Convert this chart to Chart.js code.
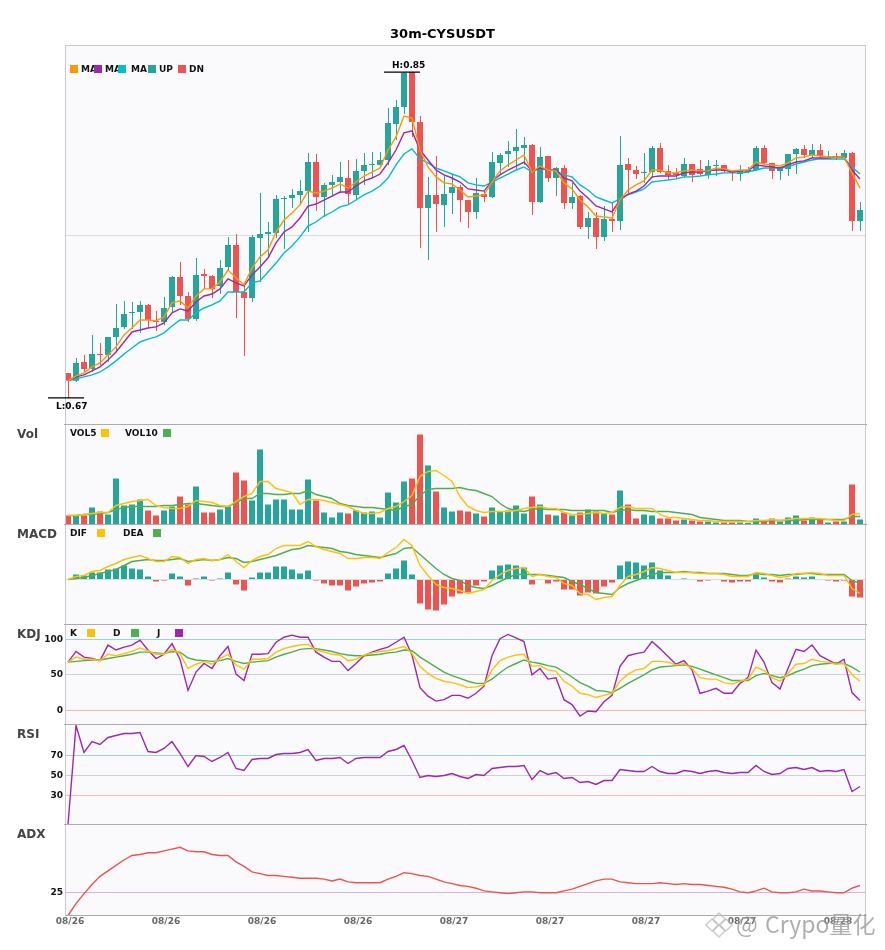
<!DOCTYPE html>
<html>
<head>
<meta charset="utf-8">
<title>30m-CYSUSDT</title>
<script src="https://cdn.jsdelivr.net/npm/chart.js@4"></script>
<style>
html, body { margin: 0; padding: 0; background: #fff; }
canvas { display: block; }
</style>
</head>
<body>
<canvas id="klineChart" width="885" height="950"></canvas>
<script>
const chartTitle = '30m-CYSUSDT';

// candles
const opens = [.6843,.6799,.6903,.6864,.6947,.6942,.7041,.7096,.7173,.7178,
  .7217,.7129,.7123,.7206,.7371,.7266,.7140,.7387,.7376,.7321,
  .7426,.7547,.7288,.7255,.7585,.7607,.7613,.7800,.7805,.7822,
  .7843,.8003,.7811,.7877,.7893,.7915,.7822,.7954,.7987,.7987,
  .8014,.8212,.8306,.8498,.8223,.7750,.7822,.7767,.7833,.7866,
  .7794,.7728,.7827,.7811,.7998,.8047,.8064,.8080,.8097,.7783,
  .8036,.7915,.7970,.7778,.7816,.7646,.7695,.7591,.7690,.7679,
  .7992,.7959,.7943,.7948,.8080,.7954,.7943,.7926,.7992,.7965,
  .7932,.7981,.7987,.7954,.7937,.7948,.7959,.8080,.7998,.7954,
  .7965,.8047,.8075,.8042,.8069,.8031,.8036,.8025,.8052,.7679];
const highs = [.6843,.6925,.6942,.7052,.7008,.7041,.7222,.7239,.7233,.7239,
  .7222,.7184,.7261,.7376,.7453,.7288,.7475,.7415,.7382,.7464,
  .7591,.7607,.7338,.7602,.7833,.7673,.7822,.7816,.7855,.7904,
  .8052,.8047,.7888,.7932,.8003,.8014,.8020,.8052,.8058,.8058,
  .8300,.8344,.8498,.8498,.8256,.7921,.8036,.7932,.7937,.7877,
  .7794,.7915,.7849,.8058,.8052,.8119,.8185,.8141,.8102,.8086,
  .8036,.7976,.7987,.7888,.7822,.7728,.7728,.7761,.7778,.8146,
  .8025,.7981,.8052,.8091,.8108,.7987,.7970,.8025,.7992,.8014,
  .8014,.8014,.7987,.7959,.7987,.7976,.8091,.8097,.7998,.7976,
  .8047,.8080,.8097,.8102,.8102,.8064,.8052,.8069,.8058,.7783];
const lows = [.6705,.6793,.6843,.6848,.6887,.6903,.6958,.7085,.7085,.7063,
  .7090,.7074,.7107,.7178,.7217,.7123,.7129,.7305,.7255,.7277,
  .7409,.7145,.6936,.7233,.7343,.7475,.7585,.7525,.7750,.7767,
  .7618,.7734,.7701,.7822,.7833,.7767,.7794,.7877,.7915,.7970,
  .7987,.8124,.8267,.8141,.7530,.7464,.7618,.7646,.7717,.7673,
  .7640,.7690,.7783,.7805,.7932,.7976,.7959,.7987,.7712,.7778,
  .7893,.7816,.7745,.7745,.7635,.7580,.7525,.7569,.7618,.7629,
  .7833,.7910,.7888,.7915,.7943,.7904,.7910,.7915,.7893,.7932,
  .7910,.7926,.7943,.7899,.7899,.7943,.7954,.7987,.7910,.7904,
  .7926,.7937,.8025,.8025,.8025,.8025,.8014,.8014,.7624,.7624];
const closes = [.6799,.6898,.6864,.6947,.6942,.7041,.7090,.7167,.7178,.7217,
  .7134,.7123,.7200,.7371,.7266,.7140,.7382,.7376,.7305,.7420,
  .7547,.7288,.7255,.7591,.7607,.7618,.7800,.7805,.7822,.7843,
  .8003,.7811,.7877,.7893,.7921,.7827,.7954,.7987,.7992,.8014,
  .8218,.8306,.8493,.8223,.7750,.7822,.7772,.7827,.7866,.7794,
  .7728,.7833,.7811,.8003,.8042,.8064,.8086,.8097,.7783,.8031,
  .7915,.7970,.7778,.7811,.7646,.7695,.7591,.7690,.7679,.7987,
  .7959,.7937,.7948,.8080,.7948,.7932,.7932,.7992,.7932,.7937,
  .7981,.7987,.7954,.7943,.7954,.7959,.8080,.7998,.7954,.7970,
  .8047,.8075,.8042,.8069,.8036,.8036,.8031,.8052,.7679,.7739];

// moving averages
const ma5 = [.6799,.6826,.6843,.6876,.6898,.6942,.6986,.7052,.7090,.7134,
  .7134,.7129,.7151,.7228,.7239,.7200,.7266,.7305,.7305,.7343,
  .7409,.7365,.7327,.7420,.7481,.7519,.7618,.7684,.7723,.7767,
  .7843,.7833,.7843,.7860,.7882,.7860,.7893,.7926,.7948,.7970,
  .8069,.8141,.8256,.8245,.8069,.7976,.7921,.7888,.7882,.7849,
  .7811,.7816,.7822,.7893,.7954,.7987,.8014,.8042,.7948,.7981,
  .7959,.7954,.7888,.7855,.7794,.7756,.7706,.7701,.7695,.7794,
  .7849,.7877,.7899,.7959,.7959,.7943,.7943,.7954,.7959,.7954,
  .7954,.7970,.7965,.7954,.7959,.7959,.8003,.7992,.7987,.7981,
  .7998,.8025,.8031,.8042,.8036,.8031,.8031,.8031,.7943,.7860];
const ma10 = [.6799,.6821,.6832,.6854,.6876,.6914,.6958,.7013,.7068,.7079,
  .7090,.7096,.7118,.7173,.7195,.7184,.7233,.7266,.7277,.7305,
  .7360,.7338,.7321,.7382,.7426,.7475,.7558,.7618,.7646,.7695,
  .7761,.7772,.7794,.7816,.7838,.7838,.7871,.7899,.7915,.7937,
  .7998,.8069,.8163,.8174,.8069,.8014,.7959,.7932,.7915,.7893,
  .7855,.7849,.7843,.7899,.7932,.7959,.7981,.8003,.7954,.7970,
  .7959,.7959,.7915,.7899,.7843,.7805,.7761,.7745,.7728,.7794,
  .7827,.7843,.7871,.7921,.7926,.7926,.7926,.7943,.7948,.7948,
  .7954,.7959,.7959,.7948,.7954,.7954,.7987,.7981,.7976,.7970,
  .7987,.8003,.8009,.8025,.8025,.8025,.8031,.8031,.7959,.7910];
const ma20 = [.6799,.6810,.6821,.6832,.6848,.6876,.6909,.6947,.6980,.7013,
  .7029,.7041,.7063,.7101,.7134,.7134,.7173,.7200,.7217,.7239,
  .7288,.7288,.7288,.7338,.7349,.7398,.7447,.7502,.7541,.7591,
  .7651,.7673,.7706,.7728,.7756,.7767,.7794,.7822,.7843,.7871,
  .7915,.7987,.8047,.8075,.8020,.7998,.7970,.7954,.7937,.7921,
  .7888,.7877,.7871,.7893,.7915,.7937,.7959,.7976,.7948,.7970,
  .7959,.7954,.7932,.7921,.7877,.7849,.7811,.7794,.7778,.7800,
  .7822,.7838,.7855,.7893,.7899,.7904,.7910,.7921,.7921,.7926,
  .7932,.7937,.7943,.7943,.7943,.7948,.7959,.7970,.7970,.7970,
  .7976,.7992,.8003,.8014,.8020,.8020,.8020,.8020,.7976,.7937];

// volume (relative, axis has no numbers in the picture)
const volumes = [9,9,9,17,13,10,46,19,20,25,
  14,9,14,18,28,20,38,12,12,15,
  18,52,44,24,75,20,25,25,15,15,
  45,24,12,7,12,11,14,12,13,7,
  32,22,43,46,90,59,33,17,13,14,
  13,11,8,17,13,14,19,11,28,20,
  10,9,12,9,12,15,13,11,10,34,
  20,6,10,9,6,6,4,5,4,3,
  3,2,2,2,2,1.5,6,3,6,3,
  7,9,4,7,5,2,3,3,40,5];
const vol5 = [9,9,10,11,12,12,19,21,23,24,
  25,19,17,16,16,18,24,23,22,19,
  18,23,28,31,43,43,36,34,32,20,
  25,25,24,22,20,18,14,11,11,12,
  16,18,23,29,48,53,54,49,43,28,
  18,14,12,13,13,13,14,16,17,18,
  16,16,12,10,10,11,12,11,12,17,
  18,16,16,16,10,7,7,6,5,4,
  4,3,3,3,3,3,4,4,5,4,
  5,6,6,6,6,5,4,4,10,11];
const vol10 = [9,9,10,10,11,12,15,17,18,18,
  18,18,19,19,20,21,21,20,19,18,
  18,22,26,26,31,31,30,30,31,31,
  34,30,28,26,21,19,18,17,17,16,
  15,14,18,20,29,35,36,36,36,37,
  35,34,31,28,21,16,14,13,15,16,
  15,15,15,14,14,14,14,14,12,14,
  15,14,14,13,13,13,12,11,10,7,
  6,5,4,4,4,3,3,3,4,4,
  4,4,5,5,5,5,5,5,8,8];

// MACD, in thousandths
const macdHist = [0,5,4,7,7,10,11,14,11,10,
  3,-2,-1,6,3,-6,1,3,-1,1,
  7,-5,-11,2,7,7,13,13,10,6,
  9,-1,-4,-6,-6,-11,-7,-4,-3,-2,
  6,11,19,5,-24,-30,-31,-25,-17,-14,
  -13,-6,-2,9,14,15,14,12,-5,0,
  -4,-2,-10,-10,-16,-13,-14,-7,-3,14,
  18,17,14,17,9,4,0,1,0,-2,
  -1,0,-2,-3,-2,-2,5,2,-2,-3,
  1,3,2,3,0,-1,-2,-1,-17,-18];
const macdDif = [0,3,4,8,9,13,16,20,22,24,
  21,18,18,23,22,16,20,21,19,20,
  25,18,12,19,23,25,31,34,34,34,
  38,33,30,28,26,21,21,22,22,21,
  27,32,40,34,14,4,-5,-8,-9,-11,
  -14,-12,-10,-1,5,9,11,12,3,5,
  3,2,-4,-6,-14,-15,-20,-18,-17,-6,
  3,5,8,12,11,9,7,7,7,6,
  6,6,5,3,3,3,7,6,4,2,
  3,6,6,7,6,4,4,4,-9,-14];
const macdDea = [0,1,2,4,6,8,10,14,18,19,
  20,19,19,20,21,18,19,20,19,20,
  22,21,17,18,20,22,24,27,30,31,
  34,33,32,31,28,27,25,24,23,22,
  24,26,31,32,25,18,11,5,1,-1,
  -6,-8,-9,-6,-2,2,5,5,5,5,
  4,3,2,-2,-5,-9,-13,-14,-15,-8,
  -4,-1,2,5,7,7,7,8,7,7,
  6,6,6,5,4,4,6,5,5,4,
  5,5,6,6,5,5,5,5,-1,-4];

// KDJ
const kdjK = [68,75,72,72,70,79,77,80,83,88,
  84,79,79,86,80,59,65,69,65,73,
  79,64,58,72,72,73,82,87,90,92,
  93,85,82,79,78,70,72,78,81,83,
  84,87,90,80,62,52,45,41,39,36,
  32,33,36,57,70,75,78,79,62,63,
  57,55,41,34,24,22,18,21,24,41,
  51,57,59,69,69,68,64,66,59,46,
  44,44,39,37,41,44,61,56,46,41,
  52,65,66,72,69,68,65,66,50,41];
const kdjD = [68,69,70,71,71,73,75,77,79,82,
  82,81,80,83,82,74,71,70,69,70,
  73,69,66,68,69,70,75,79,82,86,
  87,87,85,83,80,78,77,77,78,79,
  81,82,85,84,75,68,61,54,49,45,
  41,38,38,44,53,61,66,71,68,66,
  63,61,54,47,39,34,28,27,25,31,
  38,44,50,57,61,62,63,64,62,58,
  54,50,46,42,42,42,49,52,49,46,
  49,54,58,63,65,66,67,66,61,54];
const kdjJ = [68,83,75,73,70,92,85,89,92,99,
  85,73,79,94,72,28,54,66,59,77,
  90,51,42,79,79,80,96,103,106,103,
  103,82,75,69,69,56,66,77,82,86,
  89,96,103,78,32,20,13,15,21,21,
  17,24,34,77,101,107,102,97,50,59,
  44,46,15,8,-8,-1,-2,12,21,62,
  77,80,82,97,87,76,65,70,57,24,
  27,31,24,24,38,46,85,68,39,30,
  59,86,83,92,77,71,65,72,25,14];

// RSI and ADX
const rsiVals = [1,100,73,84,81,88,90,92,92,93,
  74,73,77,84,72,59,70,69,64,68,
  73,57,55,66,67,67,71,72,72,73,
  76,65,67,67,68,62,67,68,68,68,
  74,76,80,65,48,50,49,50,52,49,
  47,51,50,57,58,59,59,60,46,55,
  51,53,47,48,43,44,41,45,45,56,
  55,54,54,59,54,52,52,55,54,52,
  54,55,53,52,53,53,60,54,51,52,
  57,58,56,58,54,55,54,56,34,39];
const adxVals = [0,13,24,34,43,49,55,61,66,67,
  69,69,71,73,75,71,70,70,67,66,
  66,59,54,48,46,44,44,43,42,41,
  41,41,40,38,40,37,36,36,36,36,
  40,43,47,46,44,43,40,37,35,33,
  32,30,27,26,25,24,25,26,26,25,
  25,25,27,29,32,35,38,40,40,37,
  36,35,35,35,36,35,34,35,34,34,
  33,32,31,29,26,25,27,30,26,25,
  25,26,29,27,27,26,25,25,30,33];

// x axis labels
const xTickIndex = [0,12,24,36,48,60,72,84,96];
const xTickLabels = ['08/26','08/26','08/26','08/26','08/27','08/27','08/27','08/27','08/28'];

// colours
const UP = '#26A69A', DN = '#EF5350';
const ORANGE = '#FF9800', PURPLE = '#9C27B0', CYAN = '#00BCD4';
const YELLOW = '#FFC107', GREEN = '#4CAF50';
const FONT = "'DejaVu Sans'";

const candleColors = closes.map((c, i) => c >= opens[i] ? UP : DN);
const xy = arr => arr.map((v, i) => ({ x: i, y: v }));

function lineSet(data, color, axis, width) {
  return {
    type: 'line', data: xy(data), yAxisID: axis,
    borderColor: color, borderWidth: width || 1.4,
    pointRadius: 0, tension: 0, order: 0
  };
}

function barSet(data, color, axis, thickness, xAxis, order, minLength) {
  return {
    type: 'bar', data: data, yAxisID: axis, xAxisID: xAxis || 'x',
    backgroundColor: color, barThickness: thickness, minBarLength: minLength || 0,
    grouped: false, borderWidth: 0, inflateAmount: 0, order: order
  };
}

// each pane: scale plus reference lines
function pane(weight, stackWeight, min, max, lines, showLabels) {
  return {
    type: 'linear', position: 'left', stack: 'panes', stackWeight: stackWeight, weight: weight,
    min: min, max: max,
    afterFit: s => { s.width = 46; },
    afterBuildTicks: s => { s.ticks = lines.map(l => ({ value: l.value })); },
    border: { display: false },
    grid: {
      drawTicks: false, lineWidth: 1,
      color: c => { const l = lines.find(x => x.value === c.tick.value); return l ? l.color : 'transparent'; }
    },
    ticks: {
      display: showLabels, padding: 2.5, color: '#111', autoSkip: false,
      font: { family: FONT, size: 9, weight: 'bold' },
      callback: v => String(v)
    }
  };
}

const TEAL_LINE = 'rgba(38,166,154,0.45)', GREY_LINE = '#d0d0d4', PINK_LINE = 'rgba(239,83,80,0.4)';

// legends and panel names, drawn on top of the panes
const paneNames = [['Vol', 'yVol'], ['MACD', 'yMacd'], ['KDJ', 'yKdj'], ['RSI', 'yRsi'], ['ADX', 'yAdx']];
const legendTexts = [
  ['MA', 81], ['MA', 105], ['MA', 131], ['UP', 159], ['DN', 189]
];
const legendBoxes = [[70, ORANGE], [94, PURPLE], [118, CYAN], [148, UP], [178, DN]];
const subLegends = [
  { axis: 'yVol', items: [['VOL5', 70, 101, YELLOW], ['VOL10', 125, 163, GREEN]] },
  { axis: 'yMacd', items: [['DIF', 70, 97, YELLOW], ['DEA', 123, 153, GREEN]] },
  { axis: 'yKdj', items: [['K', 70, 87, YELLOW], ['D', 113, 131, GREEN], ['J', 157, 175, PURPLE]] }
];

const panePlugin = {
  id: 'panePlugin',
  beforeDraw(chart) {
    const a = chart.chartArea, g = chart.ctx;
    g.fillStyle = '#FAFAFC';
    g.fillRect(a.left, a.top, a.right - a.left, a.bottom - a.top);
  },
  afterDraw(chart) {
    const a = chart.chartArea, g = chart.ctx, sc = chart.scales;
    g.save();
    // frame and separators
    g.strokeStyle = '#c8c8d0';
    g.lineWidth = 1;
    g.strokeRect(a.left, a.top, a.right - a.left, a.bottom - a.top);
    g.strokeStyle = '#aaaab0';
    ['yVol', 'yMacd', 'yKdj', 'yRsi', 'yAdx'].forEach(id => {
      g.beginPath();
      g.moveTo(a.left - 1.5, sc[id].top);
      g.lineTo(a.right + 1.5, sc[id].top);
      g.stroke();
    });
    g.beginPath();
    g.moveTo(a.left, a.bottom);
    g.lineTo(a.right, a.bottom);
    g.stroke();

    g.textBaseline = 'middle';
    g.textAlign = 'left';
    // panel names
    g.fillStyle = '#444';
    g.font = "bold 12px " + FONT;
    paneNames.forEach(p => g.fillText(p[0], 17, sc[p[1]].top + 10));

    // main legend: text first, the next swatch covers part of it
    g.font = "bold 9px " + FONT;
    g.fillStyle = '#111';
    const ly = a.top + 24;
    legendTexts.forEach(t => g.fillText(t[0], t[1], ly));
    legendBoxes.forEach(b => {
      g.fillStyle = b[1];
      g.fillRect(b[0], ly - 4.5, 8, 8);
    });
    // sub pane legends
    subLegends.forEach(s => {
      const y = sc[s.axis].top + 9;
      s.items.forEach(it => {
        g.fillStyle = '#111';
        g.fillText(it[0], it[1], y);
        g.fillStyle = it[3];
        g.fillRect(it[2], y - 4.5, 8, 8);
      });
    });

    // high / low markers
    const hi = Math.max(...highs), lo = Math.min(...lows);
    const hx = sc.x.getPixelForValue(highs.indexOf(hi)), hy = sc.y.getPixelForValue(hi);
    const lx = sc.x.getPixelForValue(lows.indexOf(lo)), ly2 = sc.y.getPixelForValue(lo);
    g.strokeStyle = '#000';
    g.lineWidth = 1.2;
    g.beginPath();
    g.moveTo(hx - 20, hy); g.lineTo(hx + 16, hy);
    g.moveTo(lx - 20, ly2); g.lineTo(lx + 16, ly2);
    g.stroke();
    g.fillStyle = '#000';
    g.fillText('H:' + hi.toFixed(2), hx - 12, hy - 6.5);
    g.fillText('L:' + lo.toFixed(2), lx - 12, ly2 + 8.5);

    // watermark
    g.shadowColor = '#fff';
    g.shadowBlur = 3;
    g.strokeStyle = 'rgba(170,170,170,0.6)';
    g.lineWidth = 1.5;
    [[719, 919], [712, 925], [726, 925], [719, 931]].forEach(d => {
      g.beginPath();
      g.moveTo(d[0], d[1] - 6); g.lineTo(d[0] + 6, d[1]); g.lineTo(d[0], d[1] + 6); g.lineTo(d[0] - 6, d[1]);
      g.closePath();
      g.stroke();
    });
    g.fillStyle = 'rgba(120,120,120,0.6)';
    g.textBaseline = 'alphabetic';
    g.font = "23px 'Noto Sans CJK SC'";
    g.fillText('@', 736, 933);
    g.fillText('Crypo量化', 765, 933);
    g.restore();
  }
};

const xMin = -0.3125, xMax = 99.6875;

new Chart(document.getElementById('klineChart').getContext('2d'), {
  data: {
    datasets: [
      lineSet(ma5, ORANGE, 'y'),
      lineSet(ma10, PURPLE, 'y'),
      lineSet(ma20, CYAN, 'y'),
      barSet(opens.map((o, i) => ({ x: i, y: [o, closes[i]] })), candleColors, 'y', 6, 'x', 2, 1),
      barSet(lows.map((l, i) => ({ x: i, y: [l, highs[i]] })), candleColors, 'y', 1, 'xWick', 3),
      lineSet(vol5, YELLOW, 'yVol'),
      lineSet(vol10, GREEN, 'yVol'),
      barSet(xy(volumes), candleColors, 'yVol', 6, 'x', 2),
      lineSet(macdDif, YELLOW, 'yMacd'),
      lineSet(macdDea, GREEN, 'yMacd'),
      barSet(xy(macdHist), macdHist.map(v => v >= 0 ? UP : DN), 'yMacd', 6, 'x', 2),
      lineSet(kdjK, YELLOW, 'yKdj'),
      lineSet(kdjD, GREEN, 'yKdj'),
      lineSet(kdjJ, PURPLE, 'yKdj'),
      lineSet(rsiVals, PURPLE, 'yRsi'),
      lineSet(adxVals, DN, 'yAdx')
    ]
  },
  options: {
    responsive: false,
    animation: false,
    devicePixelRatio: 1,
    layout: { padding: { left: 19.5, right: 19.5, top: 0, bottom: 14.5 } },
    plugins: {
      legend: { display: false },
      tooltip: { enabled: false },
      title: {
        display: true, text: chartTitle, color: '#000',
        font: { family: FONT, size: 13, weight: 'bold', lineHeight: 1.2 },
        padding: { top: 27, bottom: 2.9 }
      }
    },
    scales: {
      x: {
        type: 'linear', min: xMin, max: xMax, position: 'bottom', offset: false,
        afterFit: s => { s.height = 20; },
        afterBuildTicks: s => { s.ticks = xTickIndex.map(v => ({ value: v })); },
        border: { display: false },
        grid: { display: false, drawTicks: false },
        ticks: {
          autoSkip: false, maxRotation: 0, padding: 1, color: '#666', labelOffset: 2,
          font: { family: FONT, size: 9, weight: 'bold' },
          callback: v => xTickLabels[xTickIndex.indexOf(v)]
        }
      },
      // half a pixel over, so the one pixel wicks stay sharp
      xWick: { type: 'linear', display: false, offset: false, min: xMin - 0.0625, max: xMax - 0.0625 },
      y: pane(6, 379, 0.6559, 0.8644, [{ value: 0.76, color: '#dcdce0' }], false),
      yVol: pane(5, 100, 0, 100, [], false),
      yMacd: pane(4, 100, -45, 55, [{ value: 0, color: '#dcdce0' }], false),
      yKdj: pane(3, 100, -20, 121, [
        { value: 100, color: TEAL_LINE }, { value: 50, color: GREY_LINE }, { value: 0, color: PINK_LINE }
      ], true),
      yRsi: pane(2, 100, 1, 101, [
        { value: 70, color: TEAL_LINE }, { value: 50, color: GREY_LINE }, { value: 30, color: PINK_LINE }
      ], true),
      yAdx: pane(1, 91, 0, 100, [{ value: 25, color: 'rgba(156,39,176,0.35)' }], true)
    }
  },
  plugins: [panePlugin]
});
</script>
</body>
</html>
